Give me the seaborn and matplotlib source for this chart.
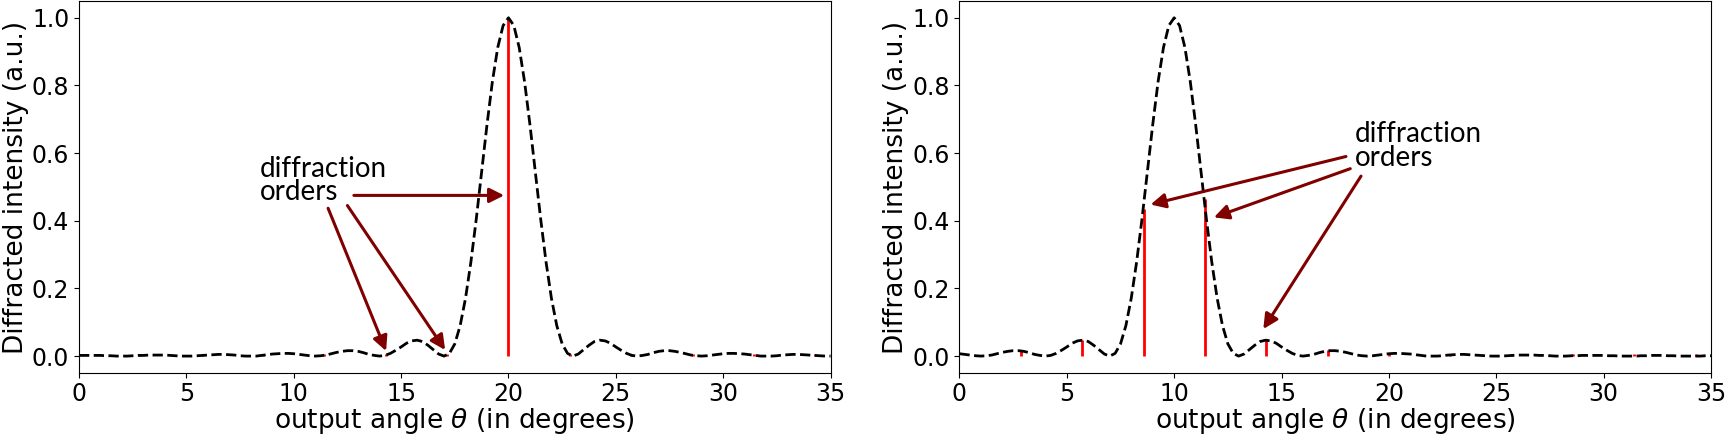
import numpy as np
import matplotlib
matplotlib.use("Agg")
import matplotlib.pyplot as plt
import seaborn as sns

sns.set_style("ticks", {"axes.edgecolor": "black", "xtick.color": "black",
                        "ytick.color": "black", "axes.labelcolor": "black",
                        "text.color": "black"})
plt.rcParams['font.family'] = ['DejaVu Sans']
plt.rc('xtick', labelsize=17)
plt.rc('ytick', labelsize=17)
plt.rc('xtick.major', size=3.5, width=0.8, pad=3)
plt.rc('ytick.major', size=3.5, width=0.8)
plt.rc('axes', linewidth=0.8)

# sampled envelope, 0.25 degree grid from 0 to 35
theta = np.linspace(0, 35, 141)

envelope_left = [
    0.002, 0.002, 0.002, 0.002, 0.002, 0.001, 0.001, 0.000, 0.000, 0.000, 0.001, 0.002,
    0.002, 0.003, 0.003, 0.003, 0.003, 0.002, 0.001, 0.000, 0.000, 0.000, 0.001, 0.002,
    0.003, 0.004, 0.005, 0.005, 0.004, 0.003, 0.001, 0.000, 0.000, 0.000, 0.002, 0.004,
    0.006, 0.007, 0.008, 0.008, 0.007, 0.005, 0.003, 0.001, 0.000, 0.001, 0.003, 0.007,
    0.011, 0.014, 0.016, 0.016, 0.014, 0.010, 0.005, 0.002, 0.000, 0.002, 0.008, 0.017,
    0.027, 0.038, 0.045, 0.047, 0.043, 0.032, 0.019, 0.006, 0.000, 0.008, 0.036, 0.090,
    0.171, 0.278, 0.405, 0.545, 0.684, 0.811, 0.912, 0.977, 1.000, 0.977, 0.912, 0.811,
    0.684, 0.545, 0.405, 0.278, 0.171, 0.090, 0.036, 0.008, 0.000, 0.006, 0.019, 0.032,
    0.043, 0.047, 0.045, 0.038, 0.027, 0.017, 0.008, 0.002, 0.000, 0.002, 0.005, 0.010,
    0.014, 0.016, 0.016, 0.014, 0.011, 0.007, 0.003, 0.001, 0.000, 0.001, 0.003, 0.005,
    0.007, 0.008, 0.008, 0.007, 0.006, 0.004, 0.002, 0.000, 0.000, 0.000, 0.001, 0.003,
    0.004, 0.005, 0.005, 0.004, 0.003, 0.002, 0.001, 0.000, 0.000,
]

envelope_right = [
    0.007, 0.005, 0.003, 0.001, 0.000, 0.001, 0.003, 0.007, 0.011, 0.014, 0.016, 0.016,
    0.014, 0.010, 0.005, 0.002, 0.000, 0.002, 0.008, 0.017, 0.027, 0.038, 0.045, 0.047,
    0.043, 0.032, 0.019, 0.006, 0.000, 0.008, 0.036, 0.090, 0.171, 0.278, 0.405, 0.545,
    0.684, 0.811, 0.912, 0.977, 1.000, 0.977, 0.912, 0.811, 0.684, 0.545, 0.405, 0.278,
    0.171, 0.090, 0.036, 0.008, 0.000, 0.006, 0.019, 0.032, 0.043, 0.047, 0.045, 0.038,
    0.027, 0.017, 0.008, 0.002, 0.000, 0.002, 0.005, 0.010, 0.014, 0.016, 0.016, 0.014,
    0.011, 0.007, 0.003, 0.001, 0.000, 0.001, 0.003, 0.005, 0.007, 0.008, 0.008, 0.007,
    0.006, 0.004, 0.002, 0.000, 0.000, 0.000, 0.001, 0.003, 0.004, 0.005, 0.005, 0.004,
    0.003, 0.002, 0.001, 0.000, 0.000, 0.000, 0.001, 0.002, 0.003, 0.003, 0.003, 0.003,
    0.002, 0.002, 0.001, 0.000, 0.000, 0.000, 0.001, 0.001, 0.002, 0.002, 0.002, 0.002,
    0.002, 0.001, 0.001, 0.000, 0.000, 0.000, 0.000, 0.001, 0.001, 0.002, 0.002, 0.002,
    0.001, 0.001, 0.000, 0.000, 0.000, 0.000, 0.000, 0.001, 0.001,
]

# diffraction orders (degrees) and their heights
orders = [2.857, 5.714, 8.571, 11.429, 14.286, 17.143, 20.0,
          22.857, 25.714, 28.571, 31.429, 34.286]
orders_left = [0.006, 0.006, 0.006, 0.006, 0.006, 0.006, 1.0,
               0.006, 0.006, 0.006, 0.006, 0.006]
orders_right = [0.017, 0.047, 0.435, 0.465, 0.050, 0.017, 0.007,
                0.006, 0.006, 0.006, 0.006, 0.006]

label_lines = ["diffraction", "orders"]
# (x, baseline y) of each label line
text_left = [(8.42, 0.528), (8.42, 0.46)]
text_right = [(18.43, 0.632), (18.43, 0.563)]
# arrows: (start, tip)
arrows_left = [((12.8, 0.475), (19.8, 0.475)),
               ((11.6, 0.437), (14.3, 0.015)),
               ((12.5, 0.445), (17.05, 0.018))]
arrows_right = [((18.0, 0.59), (8.9, 0.448)),
                ((18.2, 0.554), (11.85, 0.41)),
                ((18.7, 0.532), (14.15, 0.08))]

ARROW_COLOR = '#800000'


def do_panel(ax, envelope, heights, texts, arrows):
	ax.vlines(orders, 0, heights, color='red', lw=2, zorder=2)
	sns.lineplot(x=theta, y=envelope, ax=ax, color='black', linestyle='--', lw=2, zorder=3)
	for line, (tx, ty) in zip(label_lines, texts):
		ax.text(tx, ty, line, fontsize=20, family=['Lato', 'DejaVu Sans'], va='baseline', ha='left')
	for start, tip in arrows:
		ax.annotate("", xy=tip, xytext=start,
		            arrowprops=dict(arrowstyle='-|>', color=ARROW_COLOR, lw=2.2,
		                            mutation_scale=22, shrinkA=0, shrinkB=0))
	ax.set_xlim(0, 35)
	ax.set_ylim(-0.05, 1.05)
	ax.set_xticks(np.arange(0, 36, 5))
	ax.set_yticks(np.arange(0, 1.01, 0.2))
	ax.set_xlabel(r"output angle $\theta$ (in degrees)", fontsize=19, labelpad=0)
	ax.set_ylabel("Diffracted intensity (a.u.)", fontsize=19, labelpad=2)


fig, axes = plt.subplots(1, 2, figsize=(17.25, 4.38), dpi=100)
do_panel(axes[0], envelope_left, orders_left, text_left, arrows_left)
do_panel(axes[1], envelope_right, orders_right, text_right, arrows_right)
fig.subplots_adjust(left=0.0458, right=0.9919, bottom=0.1484, top=0.998, wspace=0.1715)
fig.savefig("out.png", dpi=100)
